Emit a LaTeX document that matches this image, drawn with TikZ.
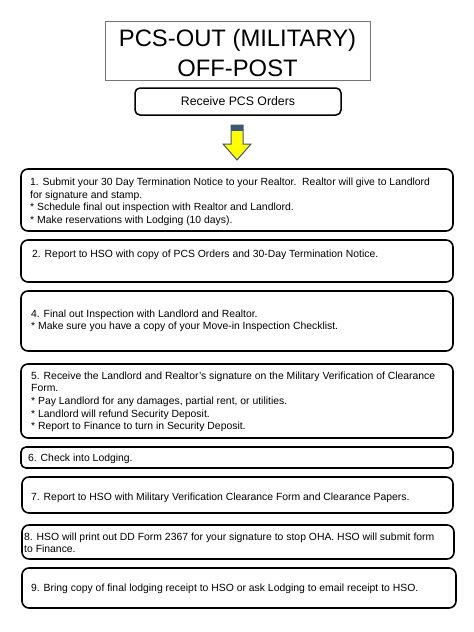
\documentclass[tikz,border=0pt]{standalone}
\usepackage{fontspec}
\setmainfont{Liberation Sans}
\begin{document}
\begin{tikzpicture}[x=1pt,y=-1pt,
  stepbox/.style={draw=black,line width=1.6pt,rounded corners=7pt,inner sep=0pt},
  titlebox/.style={draw=black!55,line width=0.9pt,inner sep=0pt},
  stepfont/.style={font=\fontsize{10.4}{12.6}\selectfont},
  steptext/.style={anchor=base west,inner sep=0pt,stepfont}
]
\useasboundingbox (0,0) rectangle (474,632);
\definecolor{arrowblue}{HTML}{3B5878}
\definecolor{arrowyellow}{HTML}{FFFF00}

% title
\node[titlebox,minimum width=265pt,minimum height=59pt] (title) at (237.5,50.5) {};
\node[anchor=base,inner sep=0pt,font=\fontsize{23.8}{30}\selectfont] (t1) at (237.5,46.7) {PCS-OUT (MILITARY)};
\node[anchor=base,inner sep=0pt,font=\fontsize{23.8}{30}\selectfont] (t2) at (237.5,76) {OFF-POST};

% receive
\node[draw=black,line width=1.5pt,rounded corners=5pt,minimum width=206pt,minimum height=27pt,inner sep=0pt] (recv) at (238,101.5) {};
\node[anchor=base,inner sep=0pt,font=\fontsize{12.3}{14}\selectfont] (recvt) at (238,105.7) {Receive PCS Orders};

% block arrow
\fill[arrowyellow] (231,125) -- (243,125) -- (243,144) -- (251,144) -- (237,160) -- (223,144) -- (231,144) -- cycle;
\fill[arrowblue] (231,125) rectangle (243,131);
\draw[arrowblue,line width=1pt,line join=miter] (231,125) -- (243,125) -- (243,144) -- (251,144) -- (237,160) -- (223,144) -- (231,144) -- cycle;

% step boxes
\node[stepbox,minimum width=432pt,minimum height=62pt] (b1) at (237,200) {};
\node[stepbox,minimum width=432pt,minimum height=42pt] (b2) at (237,261) {};
\node[stepbox,minimum width=432pt,minimum height=60pt] (b4) at (237,321) {};
\node[stepbox,minimum width=432pt,minimum height=74pt] (b5) at (237,401) {};
\node[stepbox,rounded corners=5pt,minimum width=432pt,minimum height=21pt] (b6) at (237,457.5) {};
\node[stepbox,minimum width=431pt,minimum height=36pt] (b7) at (237.5,495) {};
\node[stepbox,minimum width=432pt,minimum height=34pt] (b8) at (238,542) {};
\node[stepbox,minimum width=434pt,minimum height=40pt] (b9) at (239,588) {};

% texts
\node[steptext] (s1) at (30,185.7) {\parbox[t]{430pt}{\raggedright
1. Submit your 30 Day Termination Notice to your Realtor.\ \ Realtor will give to Landlord\\
for signature and stamp.\\
{*} Schedule final out inspection with Realtor and Landlord.\\
{*} Make reservations with Lodging (10 days).}};
\node[steptext] (s2) at (32,257.3) {2. Report to HSO with copy of PCS Orders and 30-Day Termination Notice.};
\node[steptext] (s4) at (31,317.3) {\parbox[t]{430pt}{\raggedright
4. Final out Inspection with Landlord and Realtor.\\
{*} Make sure you have a copy of your Move-in Inspection Checklist.}};
\node[steptext] (s5) at (31,379.3) {\parbox[t]{430pt}{\raggedright
5. Receive the Landlord and Realtor’s signature on the Military Verification of Clearance\\
Form.\\
{*} Pay Landlord for any damages, partial rent, or utilities.\\
{*} Landlord will refund Security Deposit.\\
{*} Report to Finance to turn in Security Deposit.}};
\node[steptext] (s6) at (28,461.7) {6. Check into Lodging.};
\node[steptext] (s7) at (31,500) {7. Report to HSO with Military Verification Clearance Form and Clearance Papers.};
\node[steptext] (s8) at (24,540) {\parbox[t]{440pt}{\raggedright
8. HSO will print out DD Form 2367 for your signature to stop OHA. HSO will submit form\\
to Finance.}};
\node[steptext] (s9) at (31,591.7) {9. Bring copy of final lodging receipt to HSO or ask Lodging to email receipt to HSO.};
\end{tikzpicture}
\end{document}
